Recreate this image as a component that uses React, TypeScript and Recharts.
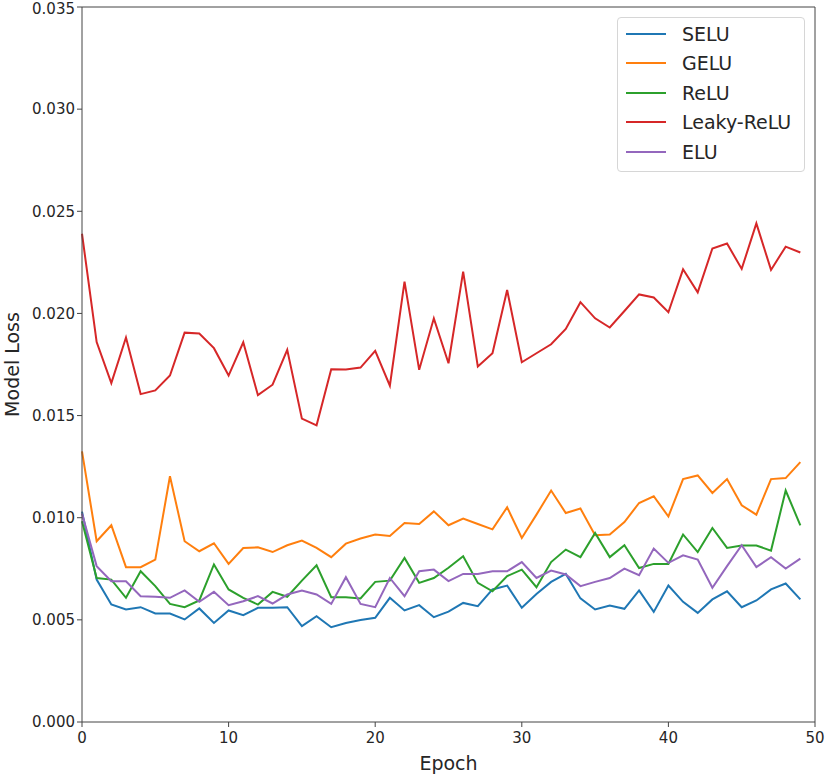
import { Legend, Line, LineChart, ReferenceLine, XAxis, YAxis } from 'recharts';

const epochs = [
  0, 1, 2, 3, 4, 5, 6, 7, 8, 9, 10, 11, 12, 13, 14, 15, 16, 17, 18, 19, 20, 21, 22, 23, 24,
  25, 26, 27, 28, 29, 30, 31, 32, 33, 34, 35, 36, 37, 38, 39, 40, 41, 42, 43, 44, 45, 46, 47, 48, 49,
];

const selu = [
  0.0103, 0.00697, 0.00575, 0.00551, 0.00562, 0.00531, 0.00531, 0.00502, 0.00556, 0.00485,
  0.00546, 0.00523, 0.00559, 0.00559, 0.00562, 0.00469, 0.00518, 0.00464, 0.00485, 0.00499,
  0.0051, 0.00608, 0.00546, 0.00572, 0.00513, 0.0054, 0.00583, 0.00567, 0.00649, 0.00668,
  0.00559, 0.00627, 0.00686, 0.00725, 0.00605, 0.00551, 0.0057, 0.00554, 0.00644, 0.00539,
  0.00668, 0.00588, 0.00534, 0.006, 0.0064, 0.00562, 0.00595, 0.00649, 0.00678, 0.006,
];

const gelu = [
  0.01325, 0.00885, 0.00963, 0.00758, 0.00758, 0.00795, 0.01203, 0.00885, 0.00836, 0.00875,
  0.00774, 0.00852, 0.00855, 0.00832, 0.00865, 0.00888, 0.00852, 0.00807, 0.00873, 0.00898,
  0.00918, 0.00911, 0.00974, 0.00969, 0.01031, 0.00963, 0.00996, 0.00969, 0.00943, 0.01051,
  0.00901, 0.01015, 0.01133, 0.01023, 0.01045, 0.00914, 0.00918, 0.00979, 0.01072, 0.01105,
  0.01006, 0.01189, 0.01207, 0.01121, 0.01189, 0.01061, 0.01015, 0.01189, 0.01194, 0.01272,
];

const relu = [
  0.00983, 0.00705, 0.00697, 0.00608, 0.00738, 0.00665, 0.00578, 0.00562, 0.00595, 0.00771,
  0.00649, 0.00608, 0.00575, 0.00637, 0.00613, 0.00692, 0.00767, 0.00611, 0.00611, 0.00605,
  0.00686, 0.00692, 0.00803, 0.00681, 0.00705, 0.00755, 0.00811, 0.00681, 0.0064, 0.00714,
  0.00746, 0.0066, 0.00783, 0.00844, 0.00807, 0.00925, 0.00807, 0.00865, 0.00754, 0.00774,
  0.00774, 0.00918, 0.00832, 0.0095, 0.00852, 0.00864, 0.00864, 0.00839, 0.01133, 0.00963,
];

const leakyRelu = [
  0.0239, 0.0186, 0.01659, 0.01882, 0.01605, 0.01623, 0.01696, 0.01906, 0.01902, 0.0183,
  0.01696, 0.01859, 0.016, 0.01651, 0.01822, 0.01485, 0.01452, 0.01727, 0.01726, 0.01735,
  0.01817, 0.01646, 0.02156, 0.01724, 0.01976, 0.01756, 0.02205, 0.0174, 0.01805, 0.02115,
  0.01761, 0.01805, 0.01849, 0.01924, 0.02055, 0.01976, 0.01931, 0.02012, 0.02093, 0.02078,
  0.02006, 0.02216, 0.02103, 0.02318, 0.02342, 0.02218, 0.02441, 0.02213, 0.02327, 0.02298,
];

const elu = [
  0.0102, 0.00763, 0.00689, 0.00689, 0.00616, 0.00613, 0.00608, 0.00644, 0.00588, 0.00637,
  0.00572, 0.00591, 0.00616, 0.0058, 0.00624, 0.00644, 0.00624, 0.00578, 0.00709, 0.00578,
  0.00562, 0.00705, 0.00616, 0.00738, 0.00746, 0.0069, 0.00725, 0.00725, 0.00738, 0.00738,
  0.00783, 0.00705, 0.00741, 0.00722, 0.00665, 0.00686, 0.00705, 0.00751, 0.00719, 0.00849,
  0.00779, 0.00816, 0.00795, 0.00657, 0.00763, 0.00865, 0.00758, 0.00807, 0.00751, 0.008,
];

const xTicks = [0, 10, 20, 30, 40, 50];
const yTicks = [0, 0.005, 0.01, 0.015, 0.02, 0.025, 0.03, 0.035];

const series = [
  { key: 'selu', label: 'SELU', color: '#1f77b4' },
  { key: 'gelu', label: 'GELU', color: '#ff7f0e' },
  { key: 'relu', label: 'ReLU', color: '#2ca02c' },
  { key: 'leaky', label: 'Leaky-ReLU', color: '#d62728' },
  { key: 'elu', label: 'ELU', color: '#9467bd' },
];

const data = epochs.map((e, i) => ({
  epoch: e,
  selu: selu[i],
  gelu: gelu[i],
  relu: relu[i],
  leaky: leakyRelu[i],
  elu: elu[i],
}));

const FONT = '"DejaVu Sans", sans-serif';
const AXIS = '#444';
const TEXT = '#262626';

function LegendBox() {
  return (
    <div
      style={{
        border: '1px solid #d6d6d6',
        borderRadius: 4,
        background: '#fff',
        padding: '1px 0 4px 0',
        fontFamily: FONT,
        fontSize: 19,
        color: TEXT,
      }}
    >
      {series.map((s) => (
        <div key={s.key} style={{ display: 'flex', alignItems: 'center', height: 29.5 }}>
          <span
            style={{
              display: 'inline-block',
              width: 40,
              height: 0,
              borderTop: `2px solid ${s.color}`,
              marginLeft: 8,
              marginRight: 16,
            }}
          />
          <span>{s.label}</span>
        </div>
      ))}
    </div>
  );
}

export default function App() {
  return (
    <div style={{ position: 'absolute', left: 0, top: 0, background: '#fff' }}>
      <LineChart width={825} height={774} data={data} margin={{ top: 7, right: 10, left: 0, bottom: 0 }}>
        <XAxis
          dataKey="epoch"
          type="number"
          domain={[0, 50]}
          ticks={xTicks}
          height={52}
          tickSize={5}
          stroke={AXIS}
          tick={{ fill: TEXT, fontSize: 15, fontFamily: FONT, dy: 3 }}
          label={{
            value: 'Epoch',
            position: 'insideBottom',
            offset: 4,
            style: { fill: TEXT, fontSize: 19, fontFamily: FONT },
          }}
        />
        <YAxis
          type="number"
          domain={[0, 0.035]}
          ticks={yTicks}
          width={82}
          tickSize={5}
          stroke={AXIS}
          tickFormatter={(v: number) => v.toFixed(3)}
          tick={{ fill: TEXT, fontSize: 15, fontFamily: FONT }}
          label={{
            value: 'Model Loss',
            angle: -90,
            position: 'insideLeft',
            offset: 12,
            style: { fill: TEXT, fontSize: 19, fontFamily: FONT, textAnchor: 'middle' },
          }}
        />
        <ReferenceLine y={0.035} stroke={AXIS} />
        <ReferenceLine x={50} stroke={AXIS} />
        {series.map((s) => (
          <Line
            key={s.key}
            type="linear"
            dataKey={s.key}
            name={s.label}
            stroke={s.color}
            strokeWidth={2}
            dot={false}
            isAnimationActive={false}
          />
        ))}
        <Legend
          layout="vertical"
          align="center"
          verticalAlign="middle"
          wrapperStyle={{ top: 17, left: 617, width: 188 }}
          content={() => <LegendBox />}
        />
      </LineChart>
    </div>
  );
}
